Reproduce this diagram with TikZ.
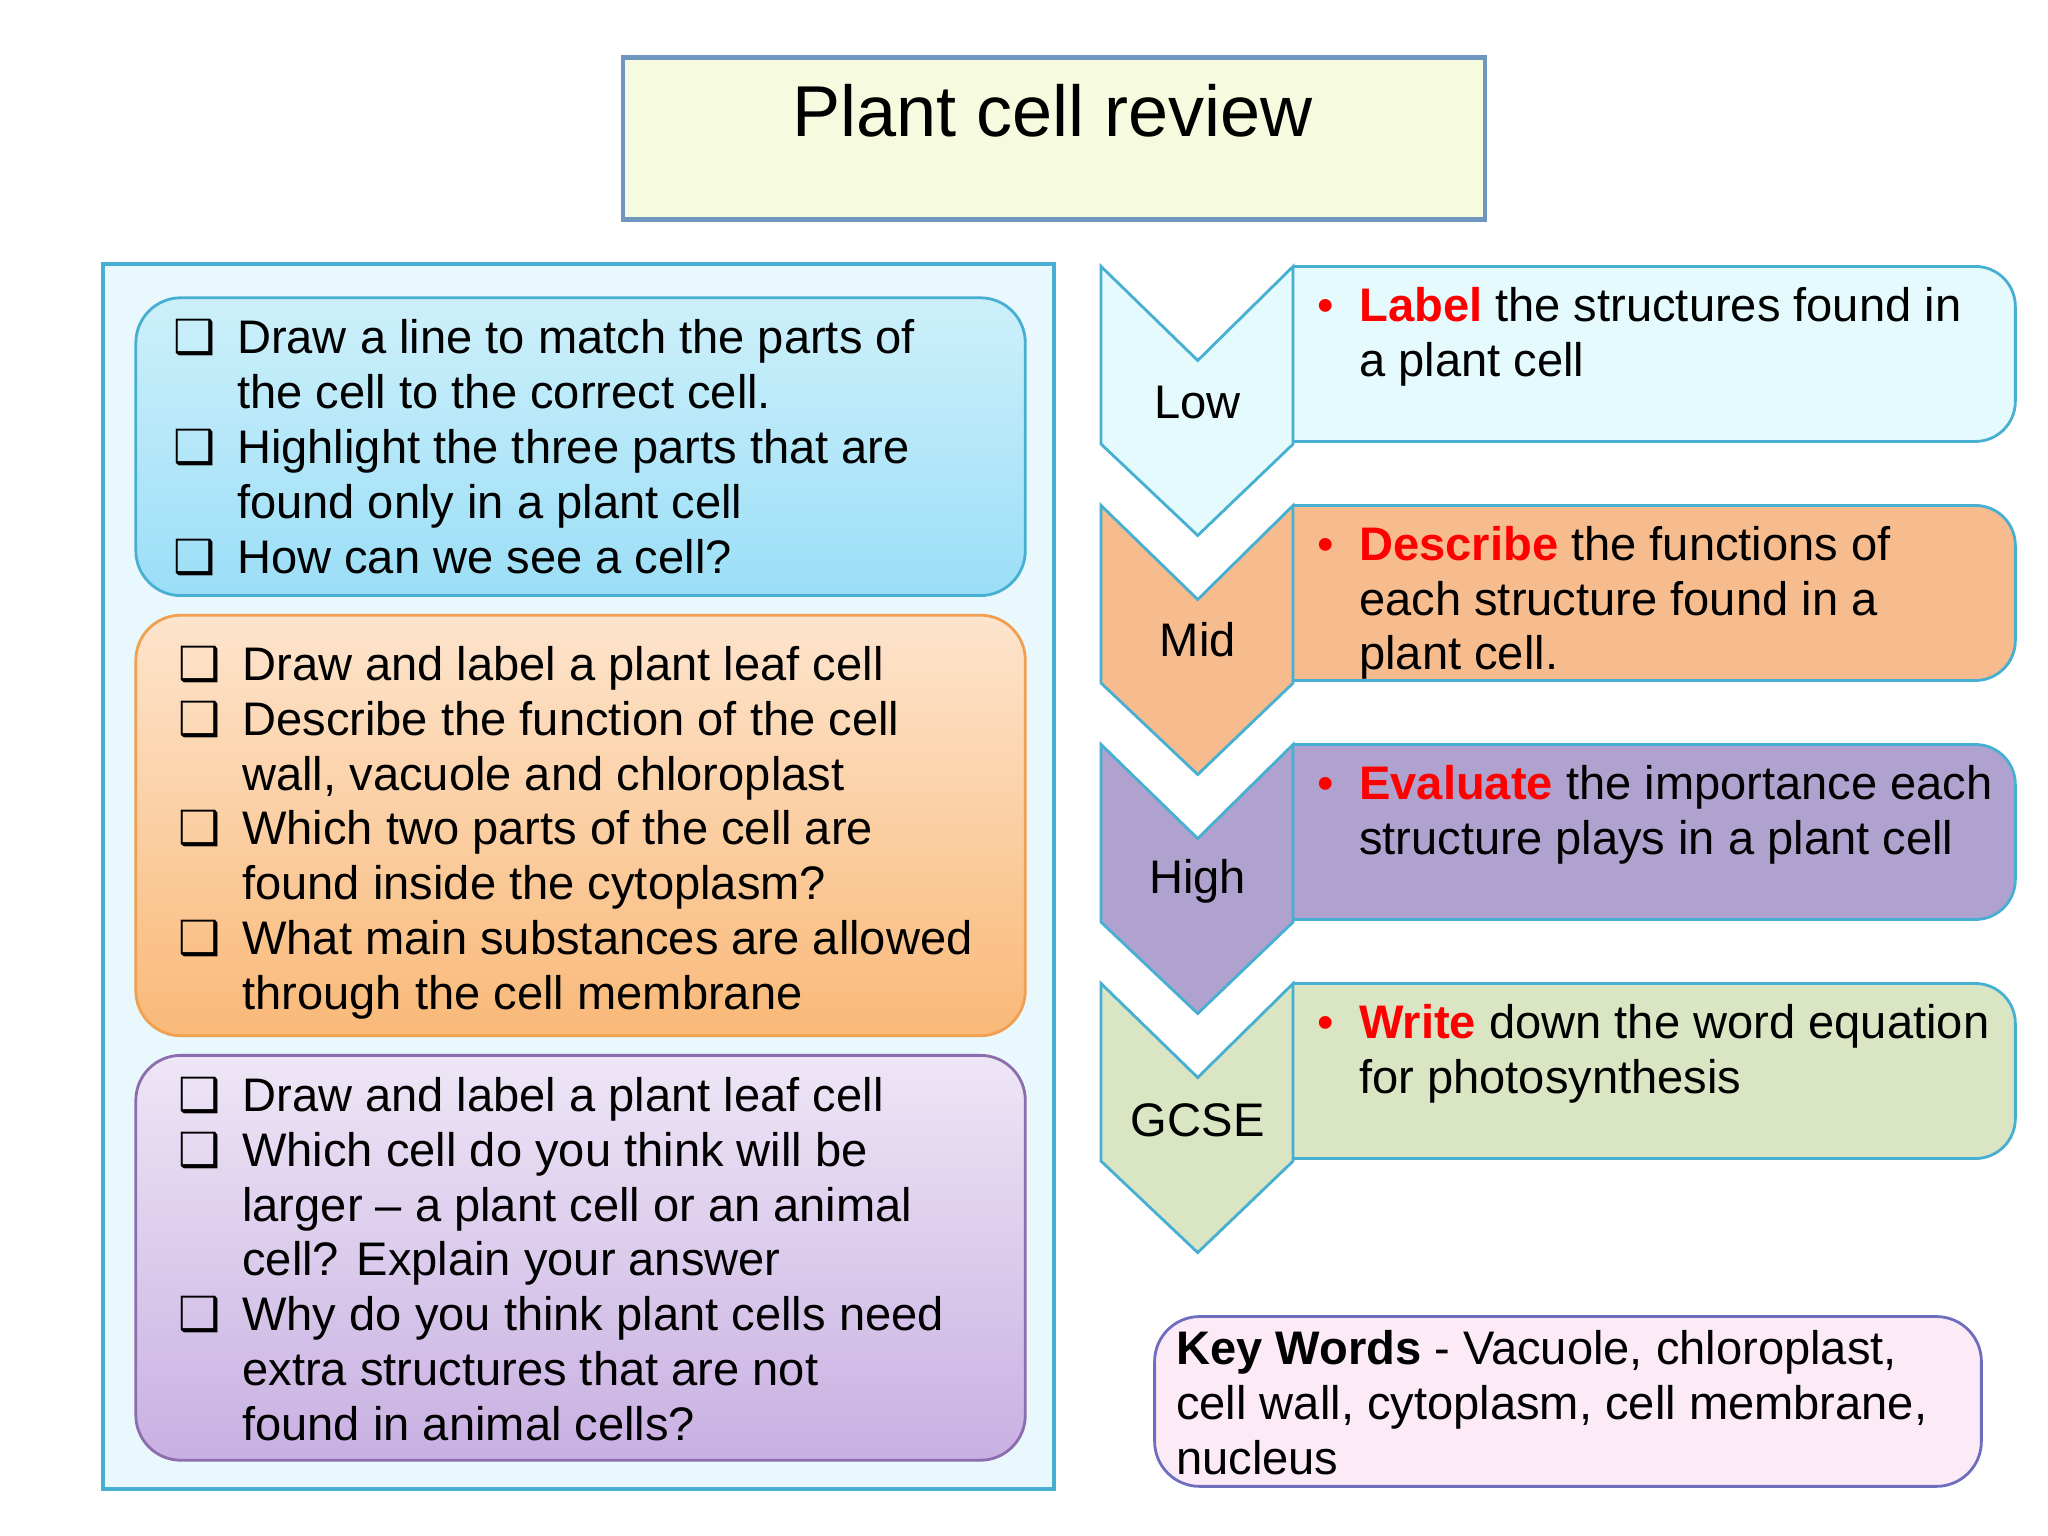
\documentclass[tikz,border=0pt]{standalone}
\usepackage{fontspec}
\setmainfont{Liberation Sans}
\newfontfamily\symfont{DejaVu Sans}
\usepackage{array}
\newcommand{\cb}{{\symfont\char"2751}}
\newcommand{\kw}[1]{\textcolor{keyred}{\textbf{#1}}}
\definecolor{keyred}{RGB}{255,0,0}
\definecolor{edgeblue}{RGB}{70,175,210}
\begin{document}
\begin{tikzpicture}[x=0.01306cm,y=-0.01306cm,
  body/.style={inner sep=0pt,anchor=north west,align=left,font=\fontsize{13.4}{15.6}\selectfont},
  roundbox/.style={rounded corners=0.45cm,line width=0.8pt},
  chev/.style={draw=edgeblue,line width=0.8pt},
  tag/.style={font=\fontsize{13.4}{15.6}\selectfont}]
\useasboundingbox (0,0) rectangle (1568,1176);
\fill[white] (0,0) rectangle (1568,1176);
% title
\draw[fill={rgb,255:red,246;green,250;blue,222},draw={rgb,255:red,110;green,150;blue,190},line width=1.2pt]
  (477,44) rectangle (1137,168);
\node[font=\fontsize{20.5}{24}\selectfont] (title) at (806,85) {Plant cell review};
% left panel
\draw[fill={rgb,255:red,232;green,248;blue,252},draw=edgeblue,line width=1.2pt] (79,202) rectangle (807,1140);
\draw[roundbox,draw=edgeblue,top color={rgb,255:red,205;green,240;blue,250},bottom color={rgb,255:red,155;green,222;blue,247}]
  (104,228) rectangle (785,456);
\draw[roundbox,draw={rgb,255:red,240;green,160;blue,80},top color={rgb,255:red,253;green,228;blue,205},bottom color={rgb,255:red,249;green,185;blue,120}]
  (104,471) rectangle (785,793);
\draw[roundbox,draw={rgb,255:red,140;green,110;blue,175},top color={rgb,255:red,238;green,230;blue,246},bottom color={rgb,255:red,200;green,176;blue,226}]
  (104,808) rectangle (785,1118);
\node[body] (t1) at (132,241) {\begin{tabular}{@{}p{0.64cm}@{}l@{}}
\cb & Draw a line to match the parts of\\
    & the cell to the correct cell.\\
\cb & Highlight the three parts that are\\
    & found only in a plant cell\\
\cb & How can we see a cell?
\end{tabular}};
\node[body] (t2) at (136,491) {\begin{tabular}{@{}p{0.64cm}@{}l@{}}
\cb & Draw and label a plant leaf cell\\
\cb & Describe the function of the cell\\
    & wall, vacuole and chloroplast\\
\cb & Which two parts of the cell are\\
    & found inside the cytoplasm?\\
\cb & What main substances are allowed\\
    & through the cell membrane
\end{tabular}};
\node[body] (t3) at (136,821) {\begin{tabular}{@{}p{0.64cm}@{}l@{}}
\cb & Draw and label a plant leaf cell\\
\cb & Which cell do you think will be\\
    & larger -- a plant cell or an animal\\
    & cell? Explain your answer\\
\cb & Why do you think plant cells need\\
    & extra structures that are not\\
    & found in animal cells?
\end{tabular}};
% right boxes
\foreach \y/\r/\g/\b in {204/228/250/252, 387/246/188/142, 570/176/162/206, 753/217/229/195}{
  \draw[chev,fill={rgb,255:red,\r;green,\g;blue,\b},rounded corners=0.4cm]
    (990,\y) -- (1543,\y) -- (1543,\y+134) -- (990,\y+134);
  \draw[chev,fill={rgb,255:red,\r;green,\g;blue,\b}]
    (843,\y) -- (917,\y+72) -- (990,\y) -- (990,\y+136) -- (917,\y+206) -- (843,\y+136) -- cycle;
}
\node[tag] (low) at (917,308) {Low};
\node[tag] (mid) at (917,490) {Mid};
\node[tag] (high) at (917,675) {High};
\node[tag] (gcse) at (917,858) {GCSE};
\node[body] (r1) at (1008,216) {\begin{tabular}{@{}p{0.42cm}@{}l@{}}
\textcolor{keyred}{\textbullet} & \kw{Label} the structures found in\\ & a plant cell\end{tabular}};
\node[body] (r2) at (1008,399) {\begin{tabular}{@{}p{0.42cm}@{}l@{}}
\textcolor{keyred}{\textbullet} & \kw{Describe} the functions of\\ & each structure found in a\\ & plant cell.\end{tabular}};
\node[body] (r3) at (1008,582) {\begin{tabular}{@{}p{0.42cm}@{}l@{}}
\textcolor{keyred}{\textbullet} & \kw{Evaluate} the importance each\\ & structure plays in a plant cell\end{tabular}};
\node[body] (r4) at (1008,765) {\begin{tabular}{@{}p{0.42cm}@{}l@{}}
\textcolor{keyred}{\textbullet} & \kw{Write} down the word equation\\ & for photosynthesis\end{tabular}};
% key words
\draw[roundbox,draw={rgb,255:red,110;green,110;blue,190},fill={rgb,255:red,252;green,234;blue,246}]
  (884,1008) rectangle (1517,1138);
\node[body] (kw) at (900,1018) {\textbf{Key Words} - Vacuole, chloroplast,\\ cell wall, cytoplasm, cell membrane,\\ nucleus};
\end{tikzpicture}
\end{document}
